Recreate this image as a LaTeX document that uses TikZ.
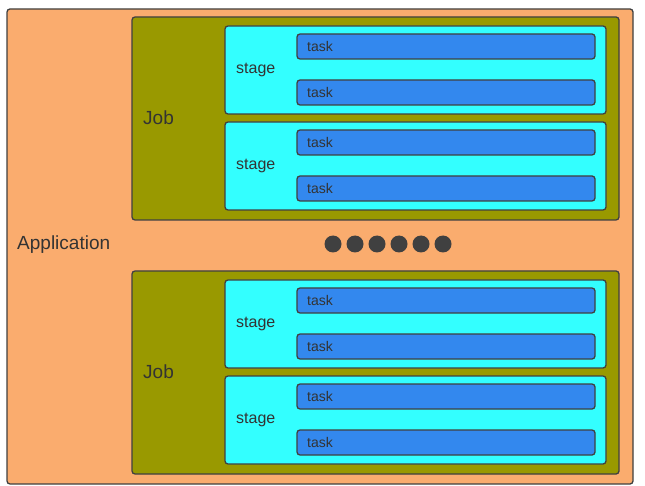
\documentclass[tikz,border=0pt]{standalone}
\usepackage{fontspec}
\setmainfont{Liberation Sans}
\begin{document}
\begin{tikzpicture}[x=1pt,y=-1pt,
  box/.style={draw=black!75,line width=1.3pt,rounded corners=3pt},
  lbl/.style={font=\fontsize{#1}{#1}\selectfont,text=black!80,anchor=west,inner sep=0pt},
  dot/.style={circle,fill=black!75,inner sep=0pt,minimum size=17pt}]
\useasboundingbox (0,0) rectangle (645,486);
\draw[box,fill={rgb,255:red,250;green,172;blue,110}] (7,9) rectangle (633,484);
\node[lbl=19] (app) at (17,245) {Application};
\foreach \j/\y in {1/17,2/271}{
  \draw[box,fill={rgb,255:red,153;green,153;blue,0}] (132,\y) rectangle (619,\y+203);
  \node[lbl=19] (job\j) at (143,\y+101) {Job};
  \foreach \s/\sy in {1/9,2/105}{
    \draw[box,fill={rgb,255:red,51;green,255;blue,255}] (225,\y+\sy) rectangle (606,\y+\sy+88);
    \node[lbl=16] (stage\j\s) at (236,\y+\sy+44) {stage};
    \foreach \t/\ty in {1/8,2/54}{
      \draw[box,fill={rgb,255:red,51;green,136;blue,238}] (297,\y+\sy+\ty) rectangle (595,\y+\sy+\ty+25);
      \node[lbl=14] (task\j\s\t) at (307,\y+\sy+\ty+12.5) {task};
    }
  }
}
\foreach \i/\x in {1/333,2/355,3/377,4/399,5/421,6/443}
  \node[dot] (d\i) at (\x,244) {};
\end{tikzpicture}
\end{document}
